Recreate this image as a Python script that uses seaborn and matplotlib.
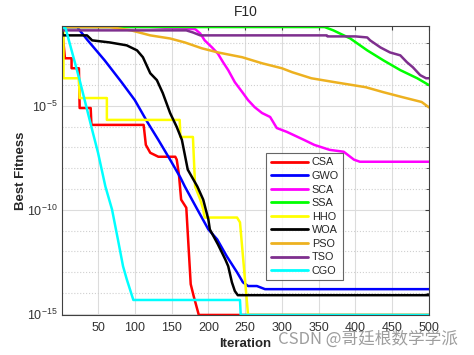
import numpy as np
import pandas as pd
import seaborn as sns
import matplotlib.pyplot as plt
from matplotlib.ticker import FixedLocator, NullFormatter

# data: iteration breakpoints and log10(best fitness)
csa_it = [1, 5, 14, 14, 24, 25, 40, 41, 112, 115, 121, 132, 155, 157, 160, 163, 170, 176, 180, 187, 500]
csa_lg = [-1.22, -2.72, -2.72, -3.2, -3.2, -5.11, -5.11, -5.92, -5.92, -6.88, -7.26, -7.45, -7.45, -7.59, -8.31, -9.51, -9.9, -13.57, -14.14, -15.05, -15.05]

gwo_it = [1, 23, 23, 36, 59, 82, 100, 117, 132, 148, 162, 168, 185, 200, 212, 225, 239, 247, 254, 266, 277, 500]
gwo_lg = [-1.22, -1.22, -1.29, -1.86, -2.82, -3.87, -4.73, -5.78, -6.64, -7.59, -8.45, -8.88, -9.98, -10.94, -11.42, -12.23, -13.0, -13.48, -13.66, -13.66, -13.81, -13.81]

sca_it = [1, 120, 162, 182, 189, 195, 205, 213, 220, 227, 236, 246, 254, 263, 273, 284, 293, 307, 330, 344, 365, 384, 398, 406, 500]
sca_lg = [-1.22, -1.22, -1.29, -1.32, -1.53, -1.86, -2.2, -2.5, -2.91, -3.29, -3.87, -4.34, -4.73, -5.07, -5.35, -5.54, -6.07, -6.26, -6.64, -6.88, -7.12, -7.21, -7.59, -7.69, -7.69]

ssa_it = [1, 358, 370, 393, 416, 438, 461, 484, 500]
ssa_lg = [-1.22, -1.22, -1.38, -1.77, -2.34, -2.82, -3.29, -3.68, -4.01]

hho_it = [1, 3, 3, 24, 25, 62, 62, 161, 162, 179, 182, 189, 193, 195, 239, 243, 250, 254, 500]
hho_lg = [-1.22, -1.22, -3.68, -3.68, -4.63, -4.63, -5.68, -5.68, -6.5, -6.5, -8.88, -9.51, -9.98, -10.37, -10.37, -10.6, -13.43, -15.05, -15.05]

woa_it = [1, 2, 35, 42, 66, 89, 103, 111, 121, 130, 138, 148, 157, 164, 172, 185, 193, 200, 202, 213, 223, 227, 232, 236, 240, 500]
woa_lg = [-1.22, -1.62, -1.62, -1.86, -1.96, -2.1, -2.34, -2.67, -3.44, -3.77, -4.39, -5.35, -6.02, -6.64, -8.07, -8.88, -9.51, -10.46, -10.94, -11.66, -12.38, -12.71, -13.48, -13.9, -14.1, -14.1]

pso_it = [1, 66, 95, 121, 148, 168, 191, 213, 246, 273, 300, 314, 340, 372, 414, 438, 463, 490, 500]
pso_lg = [-1.22, -1.22, -1.38, -1.62, -1.77, -1.96, -2.24, -2.44, -2.67, -2.96, -3.2, -3.39, -3.68, -3.87, -4.11, -4.35, -4.58, -4.82, -5.08]

tso_it = [1, 2, 170, 179, 189, 361, 362, 400, 416, 420, 434, 447, 461, 470, 478, 488, 496, 500]
tso_lg = [-1.22, -1.38, -1.38, -1.48, -1.62, -1.62, -1.67, -1.67, -1.72, -1.86, -2.2, -2.44, -2.58, -2.91, -3.15, -3.53, -3.68, -3.68]

cgo_it = [1, 6, 25, 42, 50, 60, 69, 77, 84, 89, 98, 243, 244, 500]
cgo_lg = [-1.22, -1.29, -3.77, -6.16, -7.26, -8.88, -9.98, -11.42, -12.71, -13.33, -14.33, -14.33, -15.05, -15.05]

names = ["CSA", "GWO", "SCA", "SSA", "HHO", "WOA", "PSO", "TSO", "CGO"]
iters = [csa_it, gwo_it, sca_it, ssa_it, hho_it, woa_it, pso_it, tso_it, cgo_it]
logs = [csa_lg, gwo_lg, sca_lg, ssa_lg, hho_lg, woa_lg, pso_lg, tso_lg, cgo_lg]
colors = ["#ff0000", "#0000ff", "#ff00ff", "#00ff00", "#ffff00", "#000000",
          "#edb120", "#7e2f8e", "#00ffff"]

rows = []
for n, it, lg in zip(names, iters, logs):
    for k, (i, v) in enumerate(zip(it, lg)):
        rows.append({"alg": n, "order": k, "Iteration": i, "fit": 10.0 ** v})
df = pd.DataFrame(rows)

sns.set_style("white")
plt.rcParams["font.family"] = ["Liberation Sans", "DejaVu Sans"]

fig = plt.figure(figsize=(4.74, 3.55), dpi=100)
ax = fig.add_axes([62 / 474, 40 / 355, 367 / 474, 289 / 355])

sns.lineplot(data=df, x="Iteration", y="fit", hue="alg", hue_order=names,
             palette=colors, estimator=None, sort=False, units="alg",
             linewidth=1.8, ax=ax, legend=False)

ax.set_yscale("log")
ax.set_xlim(1, 500)
ax.set_ylim(8.88e-16, 10 ** -1.17)
ax.set_xticks([50, 100, 150, 200, 250, 300, 350, 400, 450, 500])
ax.yaxis.set_major_locator(FixedLocator([1e-15, 1e-10, 1e-5]))
ax.yaxis.set_minor_locator(FixedLocator([10.0 ** e for e in range(-15, -1)]))
ax.yaxis.set_minor_formatter(NullFormatter())

ax.grid(True, which="major", color="#dcdcdc", linewidth=0.8)
ax.grid(True, which="minor", axis="y", color="#d0d0d0", linestyle=":", linewidth=0.8)
ax.tick_params(which="both", direction="in", top=True, right=True,
               colors="#404040", labelsize=9, labelcolor="#333333")
ax.tick_params(axis="x", which="major", length=3, pad=5)
ax.tick_params(axis="y", which="major", length=3, pad=3)
ax.tick_params(which="minor", length=2)
for s in ax.spines.values():
    s.set_color("#404040")
    s.set_linewidth(0.8)

ax.set_title("F10", fontsize=10, color="#262626", pad=7)
ax.set_xlabel("Iteration", fontsize=9.5, fontweight="bold", labelpad=3)
ax.set_ylabel("Best Fitness", fontsize=9.5, fontweight="bold")
ax.yaxis.set_label_coords(-0.095, 0.5)

handles = [plt.Line2D([], [], color=c, linewidth=2) for c in colors]
leg = ax.legend(handles, names, loc="lower left", bbox_to_anchor=(0.557, 0.12),
                fontsize=7.8, frameon=True, fancybox=False, handlelength=3.4,
                handletextpad=0.4, labelspacing=0.33, borderpad=0.4,
                borderaxespad=0)
leg.get_frame().set_edgecolor("#404040")
leg.get_frame().set_linewidth(0.8)

# watermark, it sits over the tick labels like in the source image
fig.text(0.587, 0.045, "CSDN @哥廷根数学学派", fontsize=12, color="#8c8c8c",
         alpha=0.85, family=["Noto Sans CJK SC", "DejaVu Sans"], va="center")

fig.savefig("out.png", dpi=100)
